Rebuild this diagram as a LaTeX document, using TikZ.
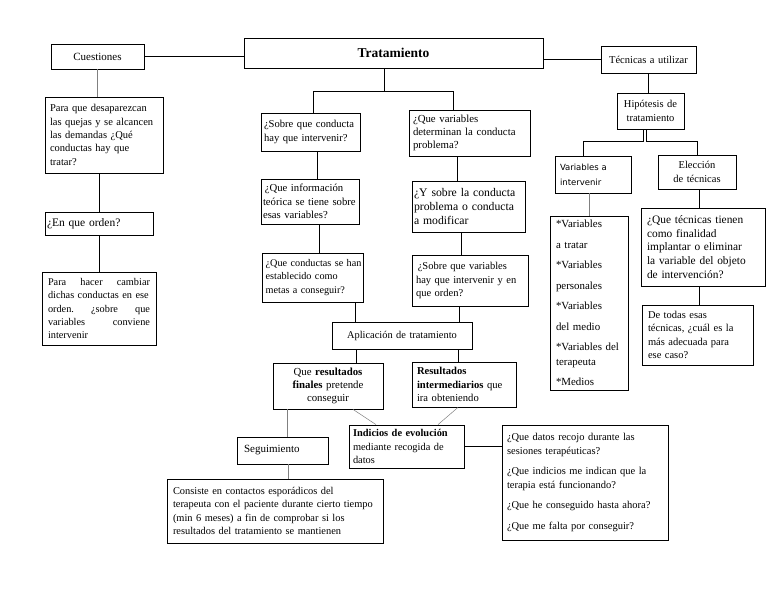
\documentclass[tikz,border=0pt]{standalone}
\usepackage{fontspec}
\setmainfont{Liberation Serif}
\newfontfamily\boxsans{DejaVu Sans}
\usetikzlibrary{positioning}
\tikzset{every node/.style={font=\fontsize{10.5}{13.3}\selectfont},
  sz/.style={font=\fontsize{#1}{13.3}\selectfont},
  box/.style={draw, line width=0.8pt, inner xsep=3pt, inner ysep=3pt, align=left},% plain boxes
  cbox/.style={box, align=center}}

\begin{document}
\begin{tikzpicture}[x=1pt,y=-1pt]
\useasboundingbox (0,0) rectangle (768,594);
% top row
\node[cbox, sz=11, text width=87pt, minimum height=25pt] (Cuest) at (97.5,56.5) {Cuestiones};
\node[cbox, text width=293pt, minimum height=30pt, font=\fontsize{13.5}{15}\selectfont\bfseries] (Trat) at (393.5,53) {Tratamiento};
\node[cbox, text width=89pt, minimum height=27pt] (Tecnicas) at (648.5,59.5) {Técnicas a utilizar};
% left column
\node[box, inner xsep=5pt, text width=108pt, minimum height=76pt] (ParaQue) at (104,135)
  {Para que desaparezcan\\ las quejas y se alcancen\\ las demandas ¿Qué\\ conductas hay que\\ tratar?};
\node[box, sz=11.5, inner xsep=2pt, text width=104pt, minimum height=23pt] (Orden) at (99,223.5) {¿En que orden?};
\node[box, sz=10.3, inner xsep=6pt, text width=102pt, minimum height=73pt] (Hacer) at (99,308.5)
  {\makebox[\hsize]{Para\hfill hacer\hfill cambiar}\\ dichas conductas en ese\\
   \makebox[\hsize]{orden.\hfill ¿sobre\hfill que}\\ \makebox[\hsize]{variables\hfill conviene}\\ intervenir};
% middle columns
\node[box, sz=10.6, text width=93pt, minimum height=38pt] (SobreCond) at (310.5,132) {\mbox{¿Sobre que conducta}\\ hay que intervenir?};
\node[box, sz=10.7, inner xsep=2pt, text width=94pt, minimum height=45pt] (Info) at (310,201.5)
  {\,¿Que información\\ \mbox{teórica se tiene sobre}\\ esas variables?};
\node[box, sz=10.2, inner xsep=2pt, text width=97pt, minimum height=49pt] (Metas) at (312.5,277.5)
  {\,\mbox{¿Que conductas se han}\\ \,establecido como\\ \,metas a conseguir?};
\node[box, sz=10.8, inner xsep=4pt, text width=113pt, minimum height=46pt] (QueVar) at (469.5,133) {¿Que variables\\ determinan la conducta\\ problema?};
\node[box, inner xsep=2pt, text width=109pt, minimum height=51pt, font=\fontsize{11.7}{14}\selectfont] (YSobre) at (468.5,206.5)
  {\mbox{¿Y sobre la conducta}\\ problema o conducta\\ a modificar};
\node[box, inner xsep=4pt, text width=108pt, minimum height=51pt] (SobreVar) at (470,280.5)
  {\,¿Sobre que variables\\ hay que intervenir y en\\ que orden?};
% lower part
\node[cbox, sz=10.4, text width=134pt, minimum height=27pt] (Aplic) at (402,335.5) {Aplicación de tratamiento};
\node[cbox, sz=10.8, text width=104pt, minimum height=46pt] (Finales) at (328,386) {Que \textbf{resultados}\\ \textbf{finales} pretende\\ conseguir};
\node[box, sz=10.6, inner xsep=5pt, text width=94pt, minimum height=45pt] (Interm) at (464,384.5)
  {\textbf{Resultados}\\ \textbf{intermediarios} que\\ ira obteniendo};
\node[box, sz=11, inner xsep=7pt, text width=77pt, minimum height=27pt] (Seguim) at (282.5,450.5) {Seguimiento};
\node[box, sz=10.4, inner xsep=4pt, text width=107pt, minimum height=43pt] (Indicios) at (406.5,446.5)
  {\textbf{Indicios de evolución}\\ mediante recogida de\\ datos};
\node[box, inner xsep=5pt, text width=156pt, minimum height=115pt, font=\fontsize{10.5}{13.5}\selectfont] (Datos) at (585,482.5)
  {¿Que datos recojo durante las\\ sesiones terapéuticas?\\[7pt] ¿Que indicios me indican que la\\ terapia está funcionando?\\[7pt]
   ¿Que he conseguido hasta ahora?\\[7pt] ¿Que me falta por conseguir?};
\node[box, sz=10.4, inner xsep=6pt, text width=204pt, minimum height=64pt] (Consiste) at (275,511)
  {Consiste en contactos esporádicos del\\ terapeuta con el paciente durante cierto tiempo\\ (min 6 meses) a fin de comprobar si los\\ resultados del tratamiento se mantienen};
% right column
\node[cbox, text width=61pt, minimum height=36pt] (Hipot) at (650.5,111) {Hipótesis de\\ tratamiento};
\node[box, inner xsep=5pt, text width=66pt, minimum height=37pt, font=\boxsans\fontsize{8.5}{15}\selectfont] (VarInt) at (593,174.5) {Variables a\\ intervenir};
\node[cbox, text width=72pt, minimum height=34pt] (Eleccion) at (697,172) {Elección\\ de técnicas};
\node[box, inner xsep=6pt, text width=66pt, minimum height=174pt, font=\fontsize{10.9}{14.3}\selectfont] (VarList) at (589,303)
  {*Variables\\[6.2pt] a tratar\\[6.2pt] *Variables\\[6.2pt] personales\\[6.2pt] *Variables\\[6.2pt] del medio\\[6.2pt]
   *Variables del\\ terapeuta\\[6.2pt] *Medios};
\node[box, inner xsep=6pt, text width=112pt, minimum height=78pt, font=\fontsize{11.4}{13.8}\selectfont] (QTec) at (703,247)
  {¿Que técnicas tienen\\ como finalidad\\ implantar o eliminar\\ la variable del objeto\\ de intervención?};
\node[box, inner xsep=6pt, text width=99pt, minimum height=60pt] (DeTodas) at (697.5,335)
  {De todas esas\\ técnicas, ¿cuál es la\\ más adecuada para\\ ese caso?};

\begin{scope}[line width=0.8pt]
\draw (Cuest.east) -- (Cuest.east -| Trat.west);
\draw (Tecnicas.west -| Trat.east) -- (Tecnicas.west);
\draw (Orden.north |- ParaQue.south) -- (Orden.north);
\draw (Orden.south) -- (Orden.south |- Hacer.north);
\draw ([xshift=-9pt]Trat.south) -- ++(0,23) coordinate (TratJoin)
      (TratJoin) -| ([xshift=2.5pt]SobreCond.north)
      (TratJoin) -| ([xshift=-16.5pt]QueVar.north);
\draw ([xshift=6.5pt]SobreCond.south) -- ([xshift=6.5pt]SobreCond.south |- Info.north);
\draw ([xshift=9pt]Info.south) -- ([xshift=9pt]Info.south |- Metas.north);
\draw ([xshift=-12.5pt]QueVar.south) -- ([xshift=-12.5pt]QueVar.south |- YSobre.north);
\draw ([xshift=-7.5pt]YSobre.south) -- ([xshift=-7.5pt]YSobre.south |- SobreVar.north);
\draw ([xshift=42.5pt]Metas.south) -- ([xshift=42.5pt]Metas.south |- Aplic.north);
\draw ([xshift=-11pt]SobreVar.south) -- ([xshift=-11pt]SobreVar.south |- Aplic.north);
\draw ([xshift=-46pt]Aplic.south) -- ([xshift=-46pt]Aplic.south |- Finales.north);
\draw ([xshift=56pt]Aplic.south) -- ([xshift=56pt]Aplic.south |- Interm.north);
\draw (Indicios.east) -- (Indicios.east -| Datos.west);
\draw (Tecnicas.south) -- (Tecnicas.south |- Hipot.north);
\draw ([xshift=-7.5pt]Hipot.south) -- ++(0,12) -| ([xshift=-10pt]VarInt.north);
\draw ([xshift=-4.5pt]Hipot.south) -- ++(0,12) -| (Eleccion.north);
\draw ([xshift=2pt]Eleccion.south) -- ([xshift=2pt]Eleccion.south |- QTec.north);
\draw ([xshift=-4pt]QTec.south) -- ([xshift=-4pt]QTec.south |- DeTodas.north);
\end{scope}
\begin{scope}[gray, line width=0.5pt]% lighter links
\draw (Cuest.south) -- (Cuest.south |- ParaQue.north);
\draw ([xshift=-41pt]Finales.south) -- ([xshift=-41pt]Finales.south |- Seguim.north);
\draw ([xshift=25pt]Finales.south) -- ([xshift=-30.5pt]Indicios.north);
\draw ([xshift=-6pt]Interm.south) -- ([xshift=31.5pt]Indicios.north);
\draw ([xshift=5.5pt]Seguim.south) -- ([xshift=5.5pt]Seguim.south |- Consiste.north);
\draw ([xshift=-4pt]VarInt.south) -- ([xshift=-4pt]VarInt.south |- VarList.north);
\end{scope}
\end{tikzpicture}
\end{document}
